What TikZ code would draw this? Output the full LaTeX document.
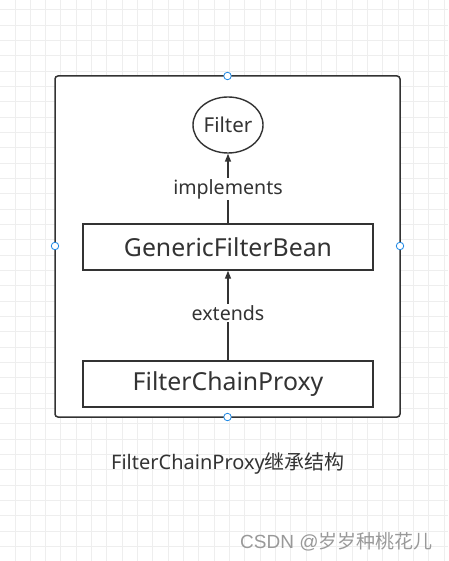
\documentclass[tikz,border=0pt]{standalone}
\usepackage{fontspec}
\setmainfont{Noto Sans}
\newfontfamily\cjk{Noto Sans CJK SC}
\newfontfamily\wm{Liberation Sans}
\usetikzlibrary{arrows.meta,shapes.geometric}
\definecolor{ink}{HTML}{333333}
\definecolor{gridc}{HTML}{EEEEEE}
\definecolor{handle}{HTML}{1E88E5}
\begin{document}
\begin{tikzpicture}[x=1pt,y=-1pt,
  box/.style={draw=ink,line width=1.4pt,minimum width=290pt,minimum height=46pt,inner sep=0pt,font=\fontsize{24.8}{28}\selectfont,text=ink},
  oval/.style={draw=ink,line width=1.4pt,ellipse,minimum width=70pt,minimum height=56pt,inner sep=0pt,font=\fontsize{20.5}{24}\selectfont,text=ink},
  lbl/.style={fill=white,font=\fontsize{19.6}{22}\selectfont,text=ink,inner sep=1.5pt},
  conn/.style={draw=ink,line width=1.4pt,-{Triangle[length=8pt,width=6pt]}},
  hdl/.style={circle,draw=handle,fill=white,line width=0.8pt,minimum size=7.5pt,inner sep=0pt}]
\useasboundingbox (0,0) rectangle (448,561);
\fill[white] (0,0) rectangle (448,561);
\foreach \i in {0,...,29} {
  \draw[gridc,line width=1pt] ({15+15.33*\i},0) -- ({15+15.33*\i},561);
}
\foreach \i in {0,...,36} {
  \draw[gridc,line width=1pt] (0,{10+15.33*\i}) -- (448,{10+15.33*\i});
}
\draw[ink,line width=1.5pt,rounded corners=3pt,fill=white] (55,76) rectangle (400,417);
\node[oval] (filter) at (228,125) {Filter};
\node[box] (gfb) at (228,247) {GenericFilterBean};
\node[box] (fcp) at (228,384) {FilterChainProxy};
\draw[conn] (gfb.north) -- node[lbl,pos=0.49] {implements} (filter.south);
\draw[conn] (fcp.north) -- node[lbl,pos=0.53] {extends} (gfb.south);
\node[hdl] (h1) at (227.5,76) {};
\node[hdl] (h2) at (55,246) {};
\node[hdl] (h3) at (400,246) {};
\node[hdl] (h4) at (227.5,417) {};
\node[font=\fontsize{20}{24}\selectfont,text=ink,anchor=west,inner sep=0pt] (cap) at (111,463) {FilterChainProxy{\cjk 继承结构}};
\node[font=\fontsize{19}{22}\selectfont,text=black!40,anchor=west,inner sep=0pt] (wm) at (240,542) {\wm CSDN @{\cjk 岁岁种桃花儿}};
\end{tikzpicture}
\end{document}
